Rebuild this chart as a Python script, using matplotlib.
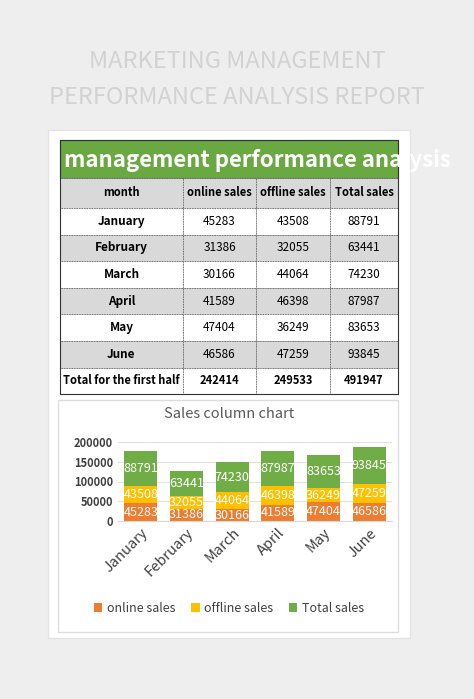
import matplotlib
matplotlib.use("Agg")
import matplotlib.pyplot as plt
from matplotlib.patches import Rectangle
import numpy as np

months = ["January", "February", "March", "April", "May", "June"]
online = [45283, 31386, 30166, 41589, 47404, 46586]
offline = [43508, 32055, 44064, 46398, 36249, 47259]
total = [88791, 63441, 74230, 87987, 83653, 93845]
headers = ["month", "online sales", "offline sales", "Total sales"]
total_row = ["Total for the first half", "242414", "249533", "491947"]

W, H = 474, 699
plt.rcParams['font.family'] = ['Noto Sans CJK SC', 'DejaVu Sans']
fig = plt.figure(figsize=(W/100, H/100), dpi=100)
fig.patch.set_facecolor("#eeeeee")

bg = fig.add_axes([0, 0, 1, 1])
bg.set_xlim(0, W); bg.set_ylim(H, 0); bg.axis("off")
bg.text(237, 62, "MARKETING MANAGEMENT", ha="center", va="center", fontsize=17, color="#d2d2d2")
bg.text(237, 98, "PERFORMANCE ANALYSIS REPORT", ha="center", va="center", fontsize=17, color="#d2d2d2")
bg.add_patch(Rectangle((48, 130), 362, 508, fc="white", ec="#e4e4e4"))
bg.add_patch(Rectangle((58, 400), 340, 232, fc="white", ec="#dddddd"))

cols = [60, 183, 256, 330, 398]
hdr = Rectangle((60, 140), 338, 38, fc="#6aa842", ec="#555555", lw=0.8)
bg.add_patch(hdr)
t = bg.text(64, 160, "management performance analysis", ha="left", va="center", fontsize=16,
            color="white", fontweight="bold")
t.set_clip_path(hdr)
rows_y = [178, 208] + [208 + 26.6*(i+1) for i in range(7)]
rows = [headers] + [[m, str(a), str(b), str(c)] for m, a, b, c in zip(months, online, offline, total)] + [total_row]
for r, vals in enumerate(rows):
    y0, y1 = rows_y[r], rows_y[r+1]
    shade = "#d9d9d9" if (r == 0 or r % 2 == 0) else "white"
    if r == len(rows) - 1:
        shade = "white"
    for c in range(4):
        bg.add_patch(Rectangle((cols[c], y0), cols[c+1]-cols[c], y1-y0, fc=shade,
                               ec="#555555", lw=0.6, ls=(0, (1, 1))))
        bold = (c == 0) or r == 0 or r == len(rows) - 1
        bg.text((cols[c]+cols[c+1])/2, (y0+y1)/2, vals[c], ha="center", va="center",
                fontsize=8 if r == 0 or r == len(rows)-1 else 8.5,
                fontweight="bold" if bold else "normal", color="black")
bg.plot([60, 398, 398, 60, 60], [140, 140, 394, 394, 140], color="#333333", lw=0.8)

x0, x1, ytop, ybot = 118, 392, 442, 521
ax = fig.add_axes([x0/W, 1-ybot/H, (x1-x0)/W, (ybot-ytop)/H])
x = np.arange(len(months))
on = np.array(online); off = np.array(offline); tot = np.array(total)
colors = ["#ed7d31", "#ffc000", "#70ad47"]
b1 = ax.bar(x, on, 0.72, color=colors[0], label="online sales")
b2 = ax.bar(x, off, 0.72, bottom=on, color=colors[1], label="offline sales")
b3 = ax.bar(x, tot, 0.72, bottom=on+off, color=colors[2], label="Total sales")
for bars in (b1, b2, b3):
    ax.bar_label(bars, label_type="center", color="white", fontsize=9, clip_on=True)
ax.set_ylim(0, 200000)
ax.set_xlim(-0.5, 5.5)
ax.set_yticks([0, 50000, 100000, 150000, 200000])
ax.set_yticklabels(["0", "50000", "100000", "150000", "200000"], fontsize=8, color="#404040",
                   fontweight="bold")
ax.set_xticks(x)
ax.set_xticklabels(months, rotation=45, ha="right", rotation_mode="anchor", fontsize=10.5, color="#404040")
ax.grid(axis="y", color="#e0e0e0", lw=0.8)
ax.set_axisbelow(True)
for s in ax.spines.values():
    s.set_visible(False)
ax.spines["bottom"].set_visible(True); ax.spines["bottom"].set_color("#d9d9d9")
ax.tick_params(length=0)
ax.set_facecolor("none")
bg.text(229, 414, "Sales column chart", ha="center", va="center", fontsize=10.5, color="#595959")
fig.legend(handles=[b1, b2, b3], loc="center", bbox_to_anchor=(229/W, 1-608/H), ncol=3,
           frameon=False, fontsize=9, handlelength=0.7, handleheight=0.7, columnspacing=1.2,
           handletextpad=0.4, labelcolor="#404040")
fig.savefig("out.png", dpi=100, facecolor=fig.get_facecolor())
